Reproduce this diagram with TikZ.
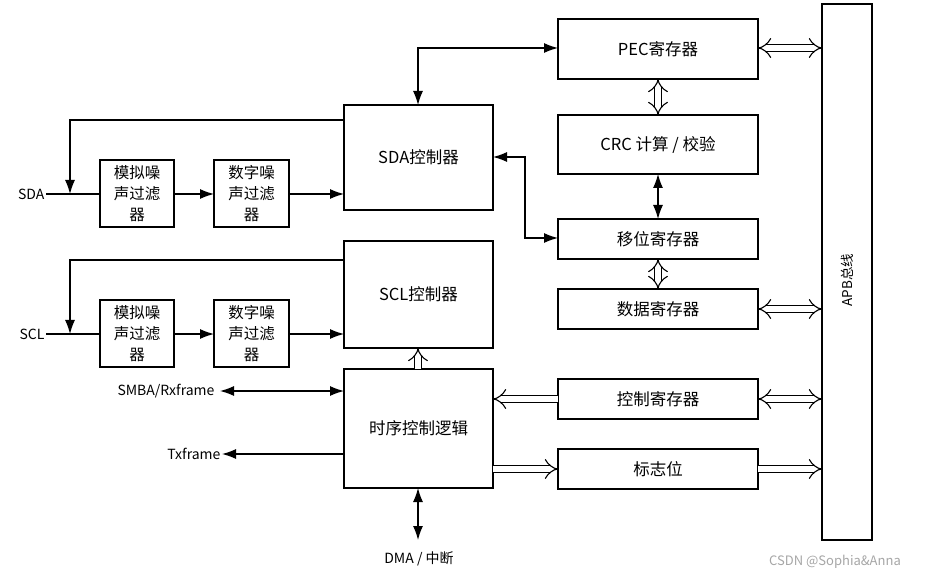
\documentclass[tikz,border=0pt]{standalone}
\usepackage{fontspec}
\setmainfont{Noto Sans CJK SC}
\usetikzlibrary{arrows.meta}
\begin{document}
\begin{tikzpicture}[x=1pt,y=-1pt,line width=1.2pt,
  box/.style={draw,line width=1.4pt},
  blk/.style={font=\fontsize{16.5}{19}\selectfont},
  flt/.style={font=\fontsize{15.5}{21}\selectfont,align=center},
  ar/.style={-{Latex[length=14pt,width=10pt]}},
  dar/.style={{Latex[length=14pt,width=10pt]}-{Latex[length=14pt,width=10pt]}},
  hol/.style={double,double distance=6pt,line width=1.1pt,-{Implies[scale=1.5]}},
  dhol/.style={double,double distance=6pt,line width=1.1pt,{Implies[scale=1.5]}-{Implies[scale=1.5]}},
  lbl/.style={font=\fontsize{14}{16}\selectfont}]
\useasboundingbox (0,0) rectangle (927,580);
% boxes
\draw[box] (344,105) rectangle (493,210) node[midway,blk] (sda) {SDA控制器};
\draw[box] (344,241) rectangle (493,348) node[midway,blk] (scl) {SCL控制器};
\draw[box] (344,369) rectangle (493,488) node[midway,blk] (tim) {时序控制逻辑};
\draw[box] (100,160) rectangle (174,227) node[midway,flt] (af1) {模拟噪\\声过滤\\器};
\draw[box] (214,160) rectangle (289,227) node[midway,flt] (df1) {数字噪\\声过滤\\器};
\draw[box] (100,300) rectangle (174,367) node[midway,flt] (af2) {模拟噪\\声过滤\\器};
\draw[box] (214,300) rectangle (289,367) node[midway,flt] (df2) {数字噪\\声过滤\\器};
\draw[box] (558,19) rectangle (758,79) node[midway,blk] (pec) {PEC寄存器};
\draw[box] (558,115) rectangle (758,174) node[midway,blk] (crc) {CRC 计算 / 校验};
\draw[box] (558,219) rectangle (758,259) node[midway,blk] (shf) {移位寄存器};
\draw[box] (558,289) rectangle (758,329) node[midway,blk] (dat) {数据寄存器};
\draw[box] (558,379) rectangle (758,419) node[midway,blk] (ctl) {控制寄存器};
\draw[box] (558,449) rectangle (758,489) node[midway,blk] (flg) {标志位};
\draw[box] (822,4) rectangle (872,540);
\node[rotate=90,font=\fontsize{13.5}{15}\selectfont] (apb) at (847,280) {APB总线};
% left signals
\node[lbl,anchor=east,inner sep=1pt] (sdaL) at (46,194) {SDA};
\node[lbl,anchor=east,inner sep=1pt] (sclL) at (46,334) {SCL};
\coordinate (j1) at (70,194);
\coordinate (j2) at (70,334);
\draw (sdaL.east) -- (100,194);
\draw[ar] (174,194) -- (214,194);
\draw[ar] (289,194) -- (344,194);
\draw[ar] (344,120) -- (70,120) -- (j1);
\draw (sclL.east) -- (100,334);
\draw[ar] (174,334) -- (214,334);
\draw[ar] (289,334) -- (344,334);
\draw[ar] (344,260) -- (70,260) -- (j2);
% SDA ctrl connections
\draw[dar] (418,105) -- (418,48) -- (558,48);
\draw[dar] (493,157) -- (525,157) -- (525,238) -- (558,238);
\draw[dhol] (658,79) -- (658,115);
\draw[dar] (658,174) -- (658,219);
\draw[dhol] (658,259) -- (658,289);
\draw[dhol] (758,48) -- (822,48);
\draw[dhol] (758,309) -- (822,309);
\draw[dhol] (758,399) -- (822,399);
\draw[hol] (558,399) -- (493,399);
\draw[hol] (493,469) -- (558,469);
\draw[hol] (758,469) -- (822,469);
\draw[hol] (418,369) -- (418,348);
% timing signals
\node[lbl,anchor=east,inner sep=1pt] (smba) at (216,391) {SMBA/Rxframe};
\node[lbl,anchor=east,inner sep=1pt] (tx) at (222,454) {Txframe};
\draw[dar] (smba.east) ++(4,0) -- (344,391);
\draw[ar] (344,454) -- (tx.east);
\node[lbl] (dma) at (419,559) {DMA / 中断};
\draw[dar] (418,488) -- (418,540);
\node[font=\fontsize{13}{15}\selectfont,text=gray!70] (wm) at (835,562) {CSDN @Sophia\&Anna};
\end{tikzpicture}
\end{document}
